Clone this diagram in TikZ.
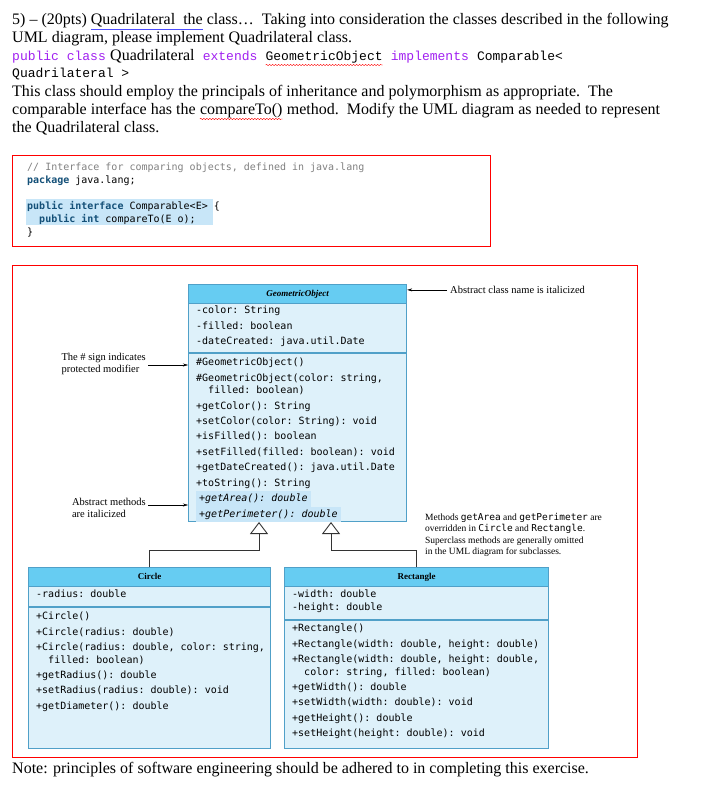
\documentclass[tikz,border=0pt]{standalone}
\usepackage{fontspec}
\setmainfont{Liberation Serif}
\setmonofont{DejaVu Sans Mono}
\newfontfamily\codefont{Liberation Mono}
\usetikzlibrary{positioning,arrows.meta,decorations.pathmorphing}
\definecolor{umlhead}{RGB}{102,204,242}
\definecolor{umlbody}{RGB}{222,241,250}
\definecolor{umlline}{RGB}{80,160,200}
\definecolor{kwpurple}{RGB}{160,32,240}
\definecolor{kwteal}{RGB}{20,80,120}
\definecolor{hilite}{RGB}{200,230,248}
\tikzset{
  para/.style={anchor=base west, inner sep=0pt, font=\fontsize{16}{18}\selectfont},
  javaline/.style={para, font=\codefont\fontsize{13}{15}\selectfont},
  squiggle/.style={red, decorate, decoration={snake, amplitude=0.7pt, segment length=3pt}},
  classbox/.style={rectangle, draw=umlline, fill=umlbody, line width=1.2pt, anchor=north west, inner sep=0pt},
  classhead/.style={rectangle, draw=umlline, fill=umlhead, line width=0.8pt, anchor=north, inner sep=0pt, minimum height=19pt, font=\fontsize{9}{10}\selectfont\bfseries},
  members/.style={anchor=north west, inner sep=0pt, align=left, font=\ttfamily\fontsize{10}{15.4}\selectfont},
  remark/.style={inner sep=0pt, align=left, font=\fontsize{10.5}{12}\selectfont},
  pointer/.style={-{Stealth[length=5pt,width=3pt]}, thin},
  inherit/.style={-{Triangle[open,length=12pt,width=18pt]}, line width=0.9pt, black!80}
}
\begin{document}
\begin{tikzpicture}[x=1pt,y=-1pt]
\useasboundingbox (0,0) rectangle (707,791);

%%% question text
\node[para] (q1) at (12,25) {5) -- (20pts) {\color{blue!70}\underline{\color{black}Quadrilateral\ \ the}} class\dots\ \ Taking into consideration the classes described in the following};
\node[para] (q2) at (12,43) {UML diagram, please implement Quadrilateral class.};
\node[javaline, kwpurple] (q3a) at (12,61) {public class};
\node[para] (q3b) at (q3a.base east) {\ Quadrilateral};
\node[javaline, kwpurple] (q3c) at (q3b.base east) {\ extends};
\node[javaline] (q3d) at (q3c.base east) {\ GeometricObject};
\node[javaline, kwpurple] (q3e) at (q3d.base east) {\ implements};
\node[javaline] (q3f) at (q3e.base east) {\ Comparable<};
\draw[squiggle] ([xshift=8pt,yshift=-4pt]q3d.base west) -- ([yshift=-4pt]q3d.base east);
\node[javaline] (q4) at (12,78) {Quadrilateral >};
\node[para] (q5) at (12,97) {This class should employ the principals of inheritance and polymorphism as appropriate.\ \ The};
\node[para] (q6a) at (12,115) {comparable interface has the};
\node[para] (q6b) at (q6a.base east) {\ compareTo()};
\node[para] (q6c) at (q6b.base east) {\ method.\ \ Modify the UML diagram as needed to represent};
\draw[squiggle] ([xshift=4pt,yshift=-4pt]q6b.base west) -- ([yshift=-4pt]q6b.base east);
\node[para] (q7) at (12,133) {the Quadrilateral class.};

%%% interface code
\draw[red, line width=0.8pt] (12,155) rectangle (490,246);
\fill[hilite] (26,199) rectangle (213,225);
\begin{scope}[font=\fontsize{10}{12}\selectfont\ttfamily]
\node[anchor=base west, inner sep=0pt, gray] (c1) at (27,171) {// Interface for comparing objects, defined in java.lang};
\node[anchor=base west, inner sep=0pt] (c2) at (27,184) {\textbf{\color{kwteal}package} java.lang;};
\node[anchor=base west, inner sep=0pt] (c3) at (27,210) {\textbf{\color{kwteal}public interface} Comparable<E> \{};
\node[anchor=base west, inner sep=0pt] (c4) at (27,223) {\ \ \textbf{\color{kwteal}public int} compareTo(E o);};
\node[anchor=base west, inner sep=0pt] (c5) at (27,236) {\}};
\end{scope}

%%% UML frame
\draw[red, line width=0.8pt] (12,265) rectangle (637,757);

%%% GeometricObject
\node[classbox, minimum width=218pt, minimum height=237pt] (go) at (188,284) {};
\node[classhead, minimum width=218pt] (go-head) at (go.north) {\itshape GeometricObject};
\node[members] (go-attr) at (196,306) {-color: String\\-filled: boolean\\-dateCreated: java.util.Date};
\draw[umlline, line width=1.2pt] (188,353) -- (406,353);
\node[members] (go-meth) at (196,358) {\#GeometricObject()\\\#GeometricObject(color: string,\\[-3pt]\ \ filled: boolean)\\+getColor(): String\\+setColor(color: String): void\\+isFilled(): boolean\\+setFilled(filled: boolean): void\\+getDateCreated(): java.util.Date\\+toString(): String\\\colorbox{hilite}{\itshape +getArea(): double}\\[-1pt]\colorbox{hilite}{\itshape +getPerimeter(): double}};

%%% Circle
\node[classbox, minimum width=242pt, minimum height=181pt] (circle) at (28,567) {};
\node[classhead, minimum width=242pt] (circle-head) at (circle.north) {Circle};
\node[members] (circle-attr) at (36,590) {-radius: double};
\draw[umlline, line width=1.2pt] (28,607) -- (270,607);
\node[members] (circle-meth) at (36,612) {+Circle()\\+Circle(radius: double)\\+Circle(radius: double, color: string,\\[-3pt]\ \ filled: boolean)\\+getRadius(): double\\+setRadius(radius: double): void\\+getDiameter(): double};

%%% Rectangle
\node[classbox, minimum width=264pt, minimum height=181pt] (rect) at (284,567) {};
\node[classhead, minimum width=264pt] (rect-head) at (rect.north) {Rectangle};
\node[members, font=\ttfamily\fontsize{10}{13}\selectfont] (rect-attr) at (292,590) {-width: double\\-height: double};
\draw[umlline, line width=1.2pt] (284,620) -- (548,620);
\node[members] (rect-meth) at (292,624) {+Rectangle()\\+Rectangle(width: double, height: double)\\+Rectangle(width: double, height: double,\\[-3pt]\ \ color: string, filled: boolean)\\+getWidth(): double\\+setWidth(width: double): void\\+getHeight(): double\\+setHeight(height: double): void};

%%% remarks
\node[remark, anchor=north west] (rm-abstract) at (450,286) {Abstract class name is italicized};
\node[remark, anchor=north east] (rm-protect) at (146,353) {The \# sign indicates\\protected modifier};
\node[remark, anchor=north east] (rm-italic) at (146,498) {Abstract methods\\are italicized};
\node[remark, anchor=north west, font=\fontsize{9.5}{11.5}\selectfont] (rm-override) at (425,513) {Methods \texttt{getArea} and \texttt{getPerimeter} are\\overridden in \texttt{Circle} and \texttt{Rectangle}.\\Superclass methods are generally omitted\\in the UML diagram for subclasses.};

%%% connections, arrows
\coordinate (go-a) at (259,522);
\coordinate (go-b) at (331,522);
\draw[pointer] (rm-abstract.west) ++(-3,0) coordinate (pa) (pa) -- (go.north east |- pa);
\draw[pointer] (148,365) coordinate (pb) (pb) -- (go.west |- pb);
\draw[pointer] (148,505) coordinate (pc) (pc) -- (go.west |- pc);
\draw[inherit] (circle.north) -- ++(0,-17) -| (go-a);
\draw[inherit] (rect.north) -- ++(0,-17) -| (go-b);

%%% note
\node[para] (note) at (12,773) {Note: principles of software engineering should be adhered to in completing this exercise.};
\end{tikzpicture}
\end{document}
